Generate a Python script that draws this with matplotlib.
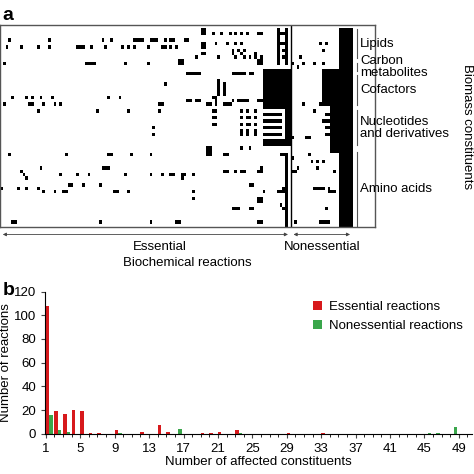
import numpy as np
import matplotlib.pyplot as plt

plt.rcParams['font.family'] = ['Liberation Sans', 'DejaVu Sans']

# 矩阵尺寸
n_rows, n_cols = 60, 125
n_essential = 103

# 大块区域 (row0, row1, col0, col1)
blocks = [
    (1, 60, 120, 125), (13, 24, 114, 120), (24, 38, 117, 120),
    (13, 25, 93, 103), (34, 36, 93, 103), (25, 34, 101, 103),
    (26, 27, 93, 100), (28, 29, 93, 100), (30, 31, 93, 100), (32, 33, 93, 100),
    (26, 27, 115, 117), (28, 29, 115, 117), (30, 31, 115, 117), (32, 33, 115, 117),
    (1, 3, 71, 73), (5, 7, 71, 73), (10, 12, 63, 65), (10, 12, 91, 93),
    (16, 21, 77, 78), (17, 21, 79, 80), (36, 39, 73, 75), (51, 53, 91, 93),
    (1, 12, 98, 99), (1, 12, 101, 102), (38, 60, 101, 102),
]
# 零散点 (row, col0, col1)
marks = [
    (2, 75, 76), (2, 78, 79), (2, 81, 82), (2, 83, 84), (2, 85, 86), (2, 87, 88), (2, 91, 93), (2, 99, 102),
    (4, 3, 4), (4, 17, 18), (4, 36, 37), (4, 39, 40), (4, 47, 51), (4, 53, 54), (4, 54, 56), (4, 58, 59),
    (4, 60, 62), (4, 65, 66), (4, 66, 67),
    (5, 76, 77), (5, 80, 81), (5, 83, 84), (5, 85, 86), (5, 99, 101), (5, 113, 114), (5, 115, 116),
    (6, 2, 3), (6, 7, 8), (6, 13, 14), (6, 17, 18), (6, 27, 30), (6, 32, 33), (6, 37, 38), (6, 43, 44),
    (6, 45, 46), (6, 47, 48), (6, 52, 53), (6, 57, 59), (6, 60, 61), (6, 62, 63),
    (7, 82, 83), (7, 84, 85), (7, 86, 87), (7, 100, 101), (7, 114, 115),
    (8, 71, 73), (8, 82, 83), (8, 85, 86), (8, 90, 91),
    (9, 69, 70), (9, 77, 78), (9, 83, 84), (9, 86, 87), (9, 88, 89), (9, 90, 91), (9, 92, 93),
    (9, 100, 101), (9, 106, 107),
    (11, 1, 2), (11, 30, 32), (11, 32, 34), (11, 44, 45), (11, 52, 53), (11, 103, 104), (11, 107, 108),
    (11, 111, 112), (11, 114, 115),
    (13, 100, 102), (12, 105, 106),
    (14, 66, 68), (14, 68, 70), (14, 70, 71), (14, 82, 83), (14, 83, 84), (14, 84, 85), (14, 85, 86),
    (14, 86, 87), (14, 88, 90),
    (17, 58, 59),
    (21, 4, 5), (21, 9, 10), (21, 11, 12), (21, 14, 15), (21, 18, 19), (21, 38, 39), (21, 42, 43),
    (21, 75, 77),
    (22, 66, 68), (22, 69, 71), (22, 76, 77), (22, 82, 83), (22, 84, 86), (22, 86, 88), (22, 91, 93),
    (23, 1, 2), (23, 10, 12), (23, 15, 16), (23, 19, 20), (23, 21, 22), (23, 56, 57), (23, 57, 58),
    (23, 73, 75), (23, 76, 77), (23, 79, 80), (23, 80, 82), (23, 107, 108), (23, 113, 114),
    (25, 13, 14), (25, 34, 35), (25, 45, 46), (25, 56, 57), (25, 75, 77), (25, 85, 86), (25, 87, 88),
    (25, 90, 91), (25, 111, 112), (25, 117, 118),
    (27, 75, 77), (27, 85, 86), (27, 87, 89), (27, 90, 91), (28, 114, 115),
    (29, 75, 77), (29, 85, 86), (29, 87, 89), (29, 90, 91),
    (30, 54, 55), (31, 85, 86), (31, 87, 88), (31, 90, 91),
    (32, 54, 55), (32, 85, 86), (32, 87, 88), (32, 90, 91),
    (33, 103, 104), (33, 108, 110),
    (36, 85, 86), (36, 88, 89),
    (38, 3, 4), (38, 23, 24), (38, 38, 39), (38, 39, 40), (38, 46, 47), (38, 53, 54), (38, 79, 81),
    (38, 99, 100), (38, 100, 101), (38, 109, 110),
    (39, 101, 102), (40, 110, 111), (40, 112, 113), (40, 114, 115), (39, 103, 104), (40, 120, 121),
    (42, 14, 15), (42, 36, 37), (42, 37, 39), (42, 92, 93), (42, 105, 106), (42, 112, 113),
    (43, 7, 8), (43, 79, 81), (43, 83, 84), (43, 85, 86), (43, 86, 87), (43, 91, 93), (43, 103, 105),
    (43, 118, 119),
    (44, 8, 9), (44, 21, 22), (44, 27, 28), (44, 31, 32), (44, 44, 45), (44, 53, 54), (44, 57, 58),
    (44, 60, 62), (44, 64, 65), (44, 65, 66), (44, 68, 69),
    (45, 9, 10), (45, 64, 65),
    (47, 24, 26), (47, 29, 30), (47, 35, 36), (47, 88, 89), (47, 89, 90),
    (48, 0, 1), (48, 6, 7), (48, 9, 10), (48, 13, 14), (48, 100, 101), (48, 111, 112), (48, 112, 113),
    (48, 113, 114), (48, 114, 115), (48, 116, 117),
    (49, 15, 16), (49, 19, 20), (49, 22, 24), (49, 40, 42), (49, 45, 46), (49, 68, 69), (49, 93, 94),
    (49, 98, 102), (49, 116, 119),
    (51, 68, 69), (53, 99, 100), (53, 101, 102),
    (54, 82, 83), (54, 83, 84), (54, 84, 85), (54, 88, 90), (54, 100, 102), (54, 115, 116),
    (58, 4, 6), (58, 35, 36), (58, 53, 54), (58, 62, 64), (58, 91, 93), (58, 104, 105),
    (58, 113, 115), (58, 115, 117),
]

# b 图数据
x_vals = np.arange(1, 51)
essential_counts = {1: 108, 2: 19, 3: 17, 4: 20, 5: 19, 6: 0.5, 7: 0.5, 9: 3, 12: 1.5, 14: 7.5,
                    15: 1.5, 19: 0.5, 20: 0.5, 21: 1.5, 23: 3, 29: 0.5, 33: 0.5}
nonessential_counts = {1: 16, 2: 3.5, 3: 1.5, 9: 1, 16: 4, 23: 1, 45: 1, 46: 0.5, 48: 6}
essential = [essential_counts.get(int(x), 0) for x in x_vals]
nonessential = [nonessential_counts.get(int(x), 0) for x in x_vals]

groups = [("Lipids", 1, 10), ("Carbon\nmetabolites", 11, 14), ("Cofactors", 14.5, 24),
          ("Nucleotides\nand derivatives", 25, 36), ("Amino acids", 37.5, 60)]

mat = np.zeros((n_rows, n_cols))
for r0, r1, c0, c1 in blocks:
    mat[r0:r1, c0:c1] = 1
for r, c0, c1 in marks:
    mat[r, c0:c1] = 1

fs = 9.5
fig = plt.figure(figsize=(4.74, 4.74), dpi=100)

# a 图
ax = fig.add_axes([0.0, 0.521, 0.791, 0.426])
ax.imshow(mat, cmap='Greys', aspect='auto', interpolation='nearest', vmin=0, vmax=1,
          extent=(0, n_cols, n_rows, 0))
ax.axvline(n_essential, color='black', lw=1)
ax.set_xticks([])
ax.set_yticks([])
for s in ax.spines.values():
    s.set_color('#555555')
    s.set_linewidth(1)
for name, r0, r1 in groups:
    ax.plot([n_cols + 1.5, n_cols + 1.5], [r0 + 0.3, r1 - 0.3], color='#555555', lw=0.8, clip_on=False)
    ax.text(n_cols + 2.5, (r0 + r1) / 2, name, va='center', ha='left', fontsize=fs, linespacing=1.0)
ax.text(1.245, 0.5, "Biomass constituents", transform=ax.transAxes, rotation=270,
        va='center', ha='center', fontsize=fs)
# 底部箭头
ya = n_rows + 2.2
ax.annotate('', xy=(0, ya), xytext=(n_essential, ya), annotation_clip=False,
            arrowprops=dict(arrowstyle='<|-|>', color='#444444', lw=0.6, mutation_scale=5))
ax.annotate('', xy=(n_essential, ya), xytext=(n_cols, ya), annotation_clip=False,
            arrowprops=dict(arrowstyle='<|-|>', color='#444444', lw=0.6, mutation_scale=5))
ax.text(n_essential / 2 + 5, -0.1, "Essential", transform=ax.get_xaxis_transform(),
        ha='center', va='center', fontsize=fs)
ax.text((n_essential + n_cols) / 2, -0.1, "Nonessential", transform=ax.get_xaxis_transform(),
        ha='center', va='center', fontsize=fs)
ax.text(0.5, -0.18, "Biochemical reactions", transform=ax.transAxes, ha='center', va='center', fontsize=fs)
fig.text(0.005, 0.985, "a", fontsize=14, fontweight='bold', va='top')

# b 图
bx = fig.add_axes([0.095, 0.085, 0.9, 0.3])
bx.bar(x_vals + 0.2, essential, width=0.4, color='#d7191c', label='Essential reactions')
bx.bar(x_vals + 0.6, nonessential, width=0.4, color='#3aa64b', label='Nonessential reactions')
bx.set_xlim(0.9, 50.5)
bx.set_ylim(0, 120)
bx.set_yticks(range(0, 121, 20))
bx.set_xticks(range(1, 50, 4))
bx.set_xticks(range(1, 51), minor=True)
bx.tick_params(labelsize=fs, length=3, color='#444444')
bx.tick_params(which='minor', length=2)
bx.spines['top'].set_visible(False)
bx.spines['right'].set_visible(False)
bx.set_xlabel("Number of affected constituents", fontsize=fs, labelpad=1)
bx.set_ylabel("Number of reactions", fontsize=fs, labelpad=1)
bx.legend(frameon=False, fontsize=fs, loc='upper right', handlelength=0.7, handleheight=0.7,
          handletextpad=0.5, borderaxespad=0.3)
fig.text(0.005, 0.405, "b", fontsize=14, fontweight='bold', va='top')

fig.savefig("out.png", dpi=100)
